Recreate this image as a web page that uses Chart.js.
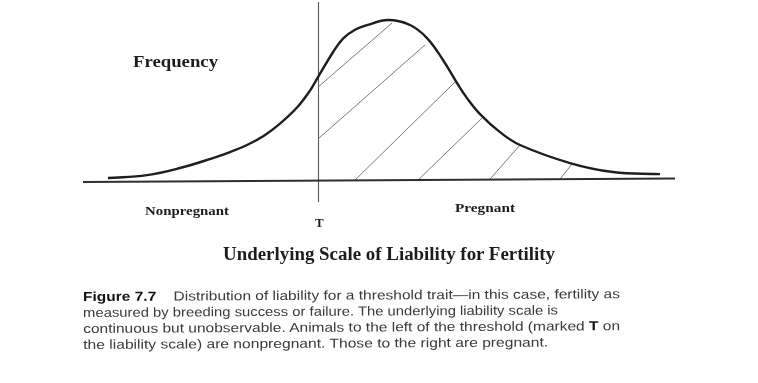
<!DOCTYPE html>
<html><head><meta charset="utf-8">
<script src="https://cdn.jsdelivr.net/npm/chart.js@4/dist/chart.umd.min.js"></script>
<style>
html,body{margin:0;padding:0;background:#fff;}
#wrap{position:relative;width:758px;height:383px;overflow:hidden;background:#fff;}
canvas{position:absolute;left:0;top:0;}
.t{position:absolute;white-space:nowrap;line-height:1;transform-origin:0 0;display:inline-block;}
.serif{font-family:"Liberation Serif","Times New Roman",serif;font-weight:bold;color:#1c1c1c;}
.cap{font-family:"Liberation Sans",Arial,sans-serif;font-size:13px;color:#3a3a3a;}
.cap b{color:#111;}
#capbox{position:absolute;left:0;top:0;width:758px;height:383px;transform-origin:83px 300px;transform:rotate(-0.3deg);}
</style></head>
<body><div id="wrap"><canvas id="c" width="758" height="383"></canvas>
<div class="t serif" data-w="85" style="left:133px;top:54px;font-size:16.5px">Frequency</div>
<div class="t serif" data-w="84" style="left:145px;top:204px;font-size:13px">Nonpregnant</div>
<div class="t serif" data-w="60" style="left:455px;top:201px;font-size:13px">Pregnant</div>
<div class="t serif" style="left:315px;top:216px;font-size:13px">T</div>
<div class="t serif" data-w="332" style="left:223px;top:245px;font-size:18px">Underlying Scale of Liability for Fertility</div>
<div id="capbox">
<div class="t cap" data-w="537" style="left:83px;top:289.5px"><b>Figure 7.7</b>&nbsp;&nbsp;&nbsp; Distribution of liability for a threshold trait—in this case, fertility as</div>
<div class="t cap" data-w="475" style="left:83px;top:305.5px">measured by breeding success or failure. The underlying liability scale is</div>
<div class="t cap" data-w="537" style="left:83px;top:321.5px">continuous but unobservable. Animals to the left of the threshold (marked <b>T</b> on</div>
<div class="t cap" data-w="465" style="left:83px;top:337.5px">the liability scale) are nonpregnant. Those to the right are pregnant.</div>
</div>
</div>
<script>
// Liability scale (x) and relative frequency (y)
const liability = [-5.60,-4.82,-4.16,-3.50,-3.16,-2.82,-2.48,-2.16,-1.82,-1.56,-1.40,-1.10,-0.90,-0.66,-0.42,0,0.44,0.78,1.10,1.38,1.58,1.84,2.24,2.64,3.64,4.50,5.44];
const frequency = [0.019,0.037,0.081,0.143,0.180,0.224,0.282,0.357,0.457,0.562,0.646,0.800,0.885,0.940,0.968,1.0,0.969,0.888,0.752,0.609,0.515,0.416,0.304,0.224,0.112,0.056,0.043];
// Axis (baseline) endpoints
const baseX = [-6.10, 5.74];
const baseY = [-0.006, 0.016];
// Threshold T
const thresholdX = -1.39;
const thresholdY = [-0.130, 1.112];
// Hatch lines in the pregnant region (start and end points)
const hatchX0 = [-1.40,-1.38,-0.66,0.60,2.04,3.44];
const hatchY0 = [0.584,0.267,0.006,0.006,0.012,0.012];
const hatchX1 = [0.08,0.74,1.34,1.88,2.64,3.68];
const hatchY1 = [0.981,0.845,0.615,0.391,0.224,0.106];

const datasets = [];
datasets.push({data: liability.map((x,i)=>({x, y: frequency[i]})), borderColor:'#1e1e1e', borderWidth:2.4, tension:0.4});
datasets.push({data: baseX.map((x,i)=>({x, y: baseY[i]})), borderColor:'#2e2e2e', borderWidth:2});
datasets.push({data: thresholdY.map(y=>({x: thresholdX, y})), borderColor:'#5a5a5a', borderWidth:1.1});
hatchX0.forEach((x,i)=>{
  datasets.push({data:[{x, y:hatchY0[i]},{x:hatchX1[i], y:hatchY1[i]}], borderColor:'#7a7a7a', borderWidth:1});
});
datasets.forEach(d=>{d.pointRadius=0; d.fill=false; d.clip=false;});

new Chart(document.getElementById('c'), {
  type:'line',
  data:{datasets},
  options:{
    responsive:false, animation:false, devicePixelRatio:1,
    layout:{padding:{left:83,right:83,top:2,bottom:176}},
    plugins:{legend:{display:false}, tooltip:{enabled:false}},
    scales:{
      x:{type:'linear', min:-6.10, max:5.74, display:false},
      y:{type:'linear', min:-0.161, max:1.112, display:false}
    }
  }
});

document.querySelectorAll('[data-w]').forEach(el=>{
  const w = parseFloat(el.dataset.w);
  const a = el.getBoundingClientRect().width;
  if (a>0) el.style.transform = 'scaleX(' + (w/a) + ')';
});
</script>
</body></html>
